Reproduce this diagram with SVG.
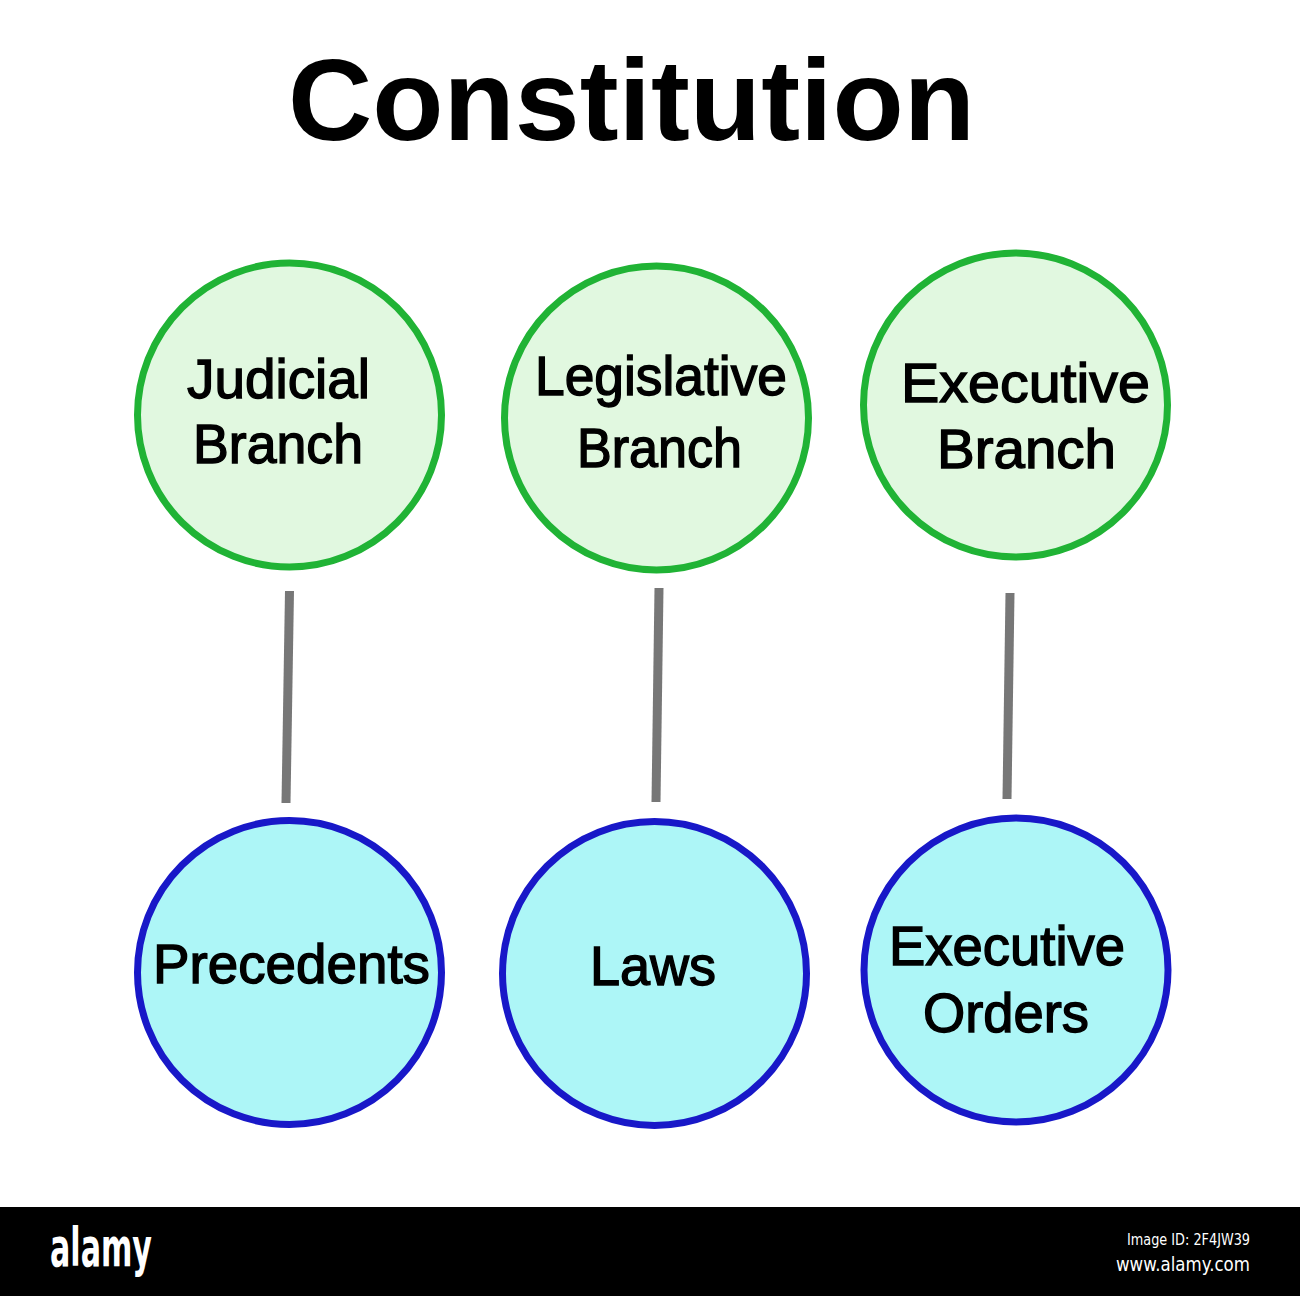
<svg xmlns="http://www.w3.org/2000/svg" width="1300" height="1296" viewBox="0 0 1300 1296">
<style>
.top{fill:#e1f8e0;stroke:#20b335;stroke-width:7}
.bot{fill:#adf6f7;stroke:#1818c8;stroke-width:7}
.lbl{font-family:"Liberation Sans",Arial,sans-serif;font-weight:normal;font-size:55px;fill:#000;stroke:#000;stroke-width:1.4}
.conn{stroke:#777;stroke-width:9;fill:none}
.title{font-family:"Liberation Sans",Arial,sans-serif;font-weight:bold;font-size:115px;fill:#000}
</style>
<rect width="1300" height="1296" fill="#fff"/>
<text class="title" x="288" y="140" textLength="687" lengthAdjust="spacingAndGlyphs">Constitution</text>
<g id="connectors">
<line class="conn" x1="289.5" y1="591" x2="286" y2="803"/>
<line class="conn" x1="659" y1="588" x2="656" y2="802"/>
<line class="conn" x1="1010" y1="593" x2="1007" y2="799"/>
</g>
<g id="judicial">
<circle class="top" cx="289.5" cy="415" r="152"/>
<text class="lbl" x="187" y="398" textLength="183" lengthAdjust="spacingAndGlyphs">Judicial</text>
<text class="lbl" x="193" y="463" textLength="170" lengthAdjust="spacingAndGlyphs">Branch</text>
</g>
<g id="legislative">
<circle class="top" cx="656.5" cy="418" r="152"/>
<text class="lbl" x="535" y="395" textLength="252" lengthAdjust="spacingAndGlyphs">Legislative</text>
<text class="lbl" x="577" y="467" textLength="165" lengthAdjust="spacingAndGlyphs">Branch</text>
</g>
<g id="executive">
<circle class="top" cx="1015.5" cy="405" r="152"/>
<text class="lbl" x="901" y="402" textLength="249" lengthAdjust="spacingAndGlyphs">Executive</text>
<text class="lbl" x="937" y="468" textLength="179" lengthAdjust="spacingAndGlyphs">Branch</text>
</g>
<g id="precedents">
<circle class="bot" cx="289.5" cy="972.5" r="152"/>
<text class="lbl" x="153" y="983" textLength="277" lengthAdjust="spacingAndGlyphs">Precedents</text>
</g>
<g id="laws">
<circle class="bot" cx="654.5" cy="973.5" r="152"/>
<text class="lbl" x="590" y="985" textLength="126" lengthAdjust="spacingAndGlyphs">Laws</text>
</g>
<g id="orders">
<circle class="bot" cx="1016" cy="970" r="152"/>
<text class="lbl" x="889" y="965" textLength="236" lengthAdjust="spacingAndGlyphs">Executive</text>
<text class="lbl" x="923" y="1032" textLength="166" lengthAdjust="spacingAndGlyphs">Orders</text>
</g>
<g id="footer">
<rect x="0" y="1207" width="1300" height="89" fill="#000"/>
<text x="50" y="1266" font-family="'DejaVu Sans',sans-serif" font-weight="bold" font-size="54" fill="#fff" textLength="102" lengthAdjust="spacingAndGlyphs">alamy</text>
<text x="1127" y="1245" font-family="'DejaVu Sans',sans-serif" font-size="16" fill="#fff" textLength="123" lengthAdjust="spacingAndGlyphs">Image ID: 2F4JW39</text>
<text x="1116" y="1271" font-family="'DejaVu Sans',sans-serif" font-size="19" fill="#fff" textLength="134" lengthAdjust="spacingAndGlyphs">www.alamy.com</text>
</g>
</svg>
